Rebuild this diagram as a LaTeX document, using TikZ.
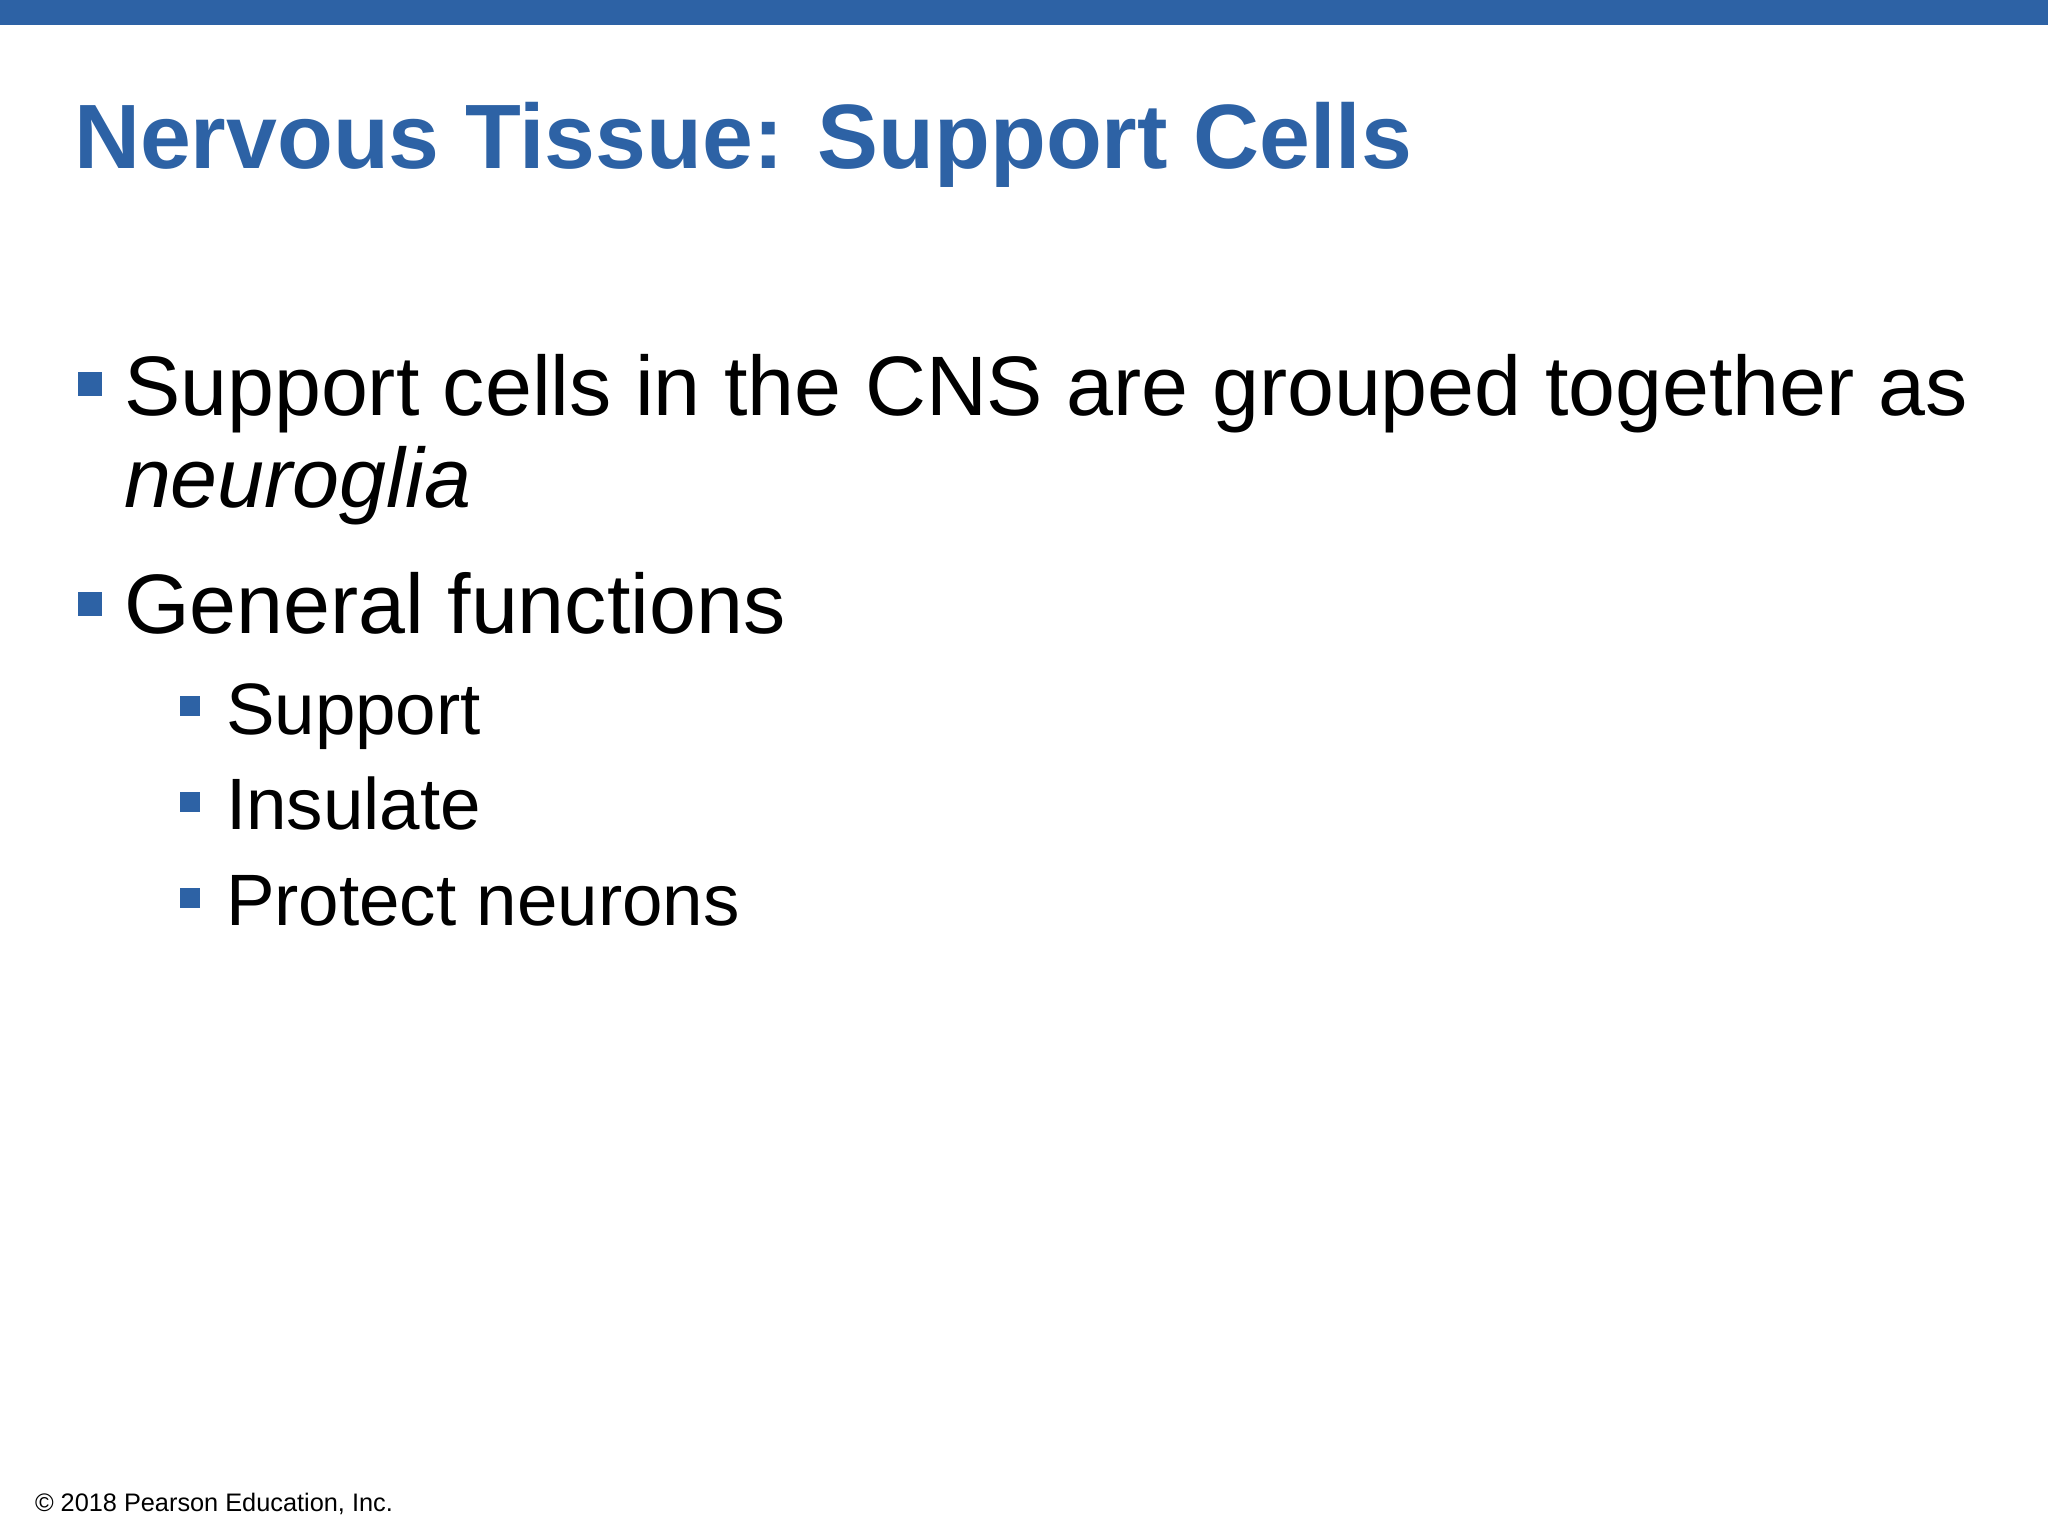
\documentclass[tikz,border=0pt]{standalone}
\usepackage{fontspec}
\setmainfont{Liberation Sans}
\definecolor{pblue}{HTML}{2D62A5}
\begin{document}
\begin{tikzpicture}[x=0.01cm,y=-0.01cm,
  txt/.style={anchor=base west,inner sep=0pt,outer sep=0pt},
  mainfont/.style={font=\fontsize{24pt}{28pt}\selectfont},
  subfont/.style={font=\fontsize{20.7pt}{24pt}\selectfont},
  sq/.style={fill=pblue,draw=none}]
\useasboundingbox (0,0) rectangle (2048,1536);
\fill[pblue] (0,0) rectangle (2048,25);
\node[txt,text=pblue,font=\fontsize{26pt}{30pt}\selectfont\bfseries] (title) at (74,168) {Nervous Tissue: Support Cells};
\fill[sq] (78,372) rectangle (102,396);
\node[txt,mainfont] (b1) at (124,415) {Support cells in the CNS are groupe{}d together as};
\node[txt,mainfont] (b1b) at (124,507) {\itshape neuroglia};
\fill[sq] (78,592) rectangle (102,616);
\node[txt,mainfont] (b2) at (124,633) {General functions};
\fill[sq] (180,696) rectangle (200,716);
\node[txt,subfont] (s1) at (226,734) {Support};
\fill[sq] (180,792) rectangle (200,812);
\node[txt,subfont] (s2) at (226,829) {Insulate};
\fill[sq] (180,888) rectangle (200,908);
\node[txt,subfont] (s3) at (226,925) {Protect neurons};
\node[txt,font=\fontsize{7.2pt}{9pt}\selectfont] (foot) at (35,1511) {© 2018 Pearson Education, Inc.};
\end{tikzpicture}
\end{document}
